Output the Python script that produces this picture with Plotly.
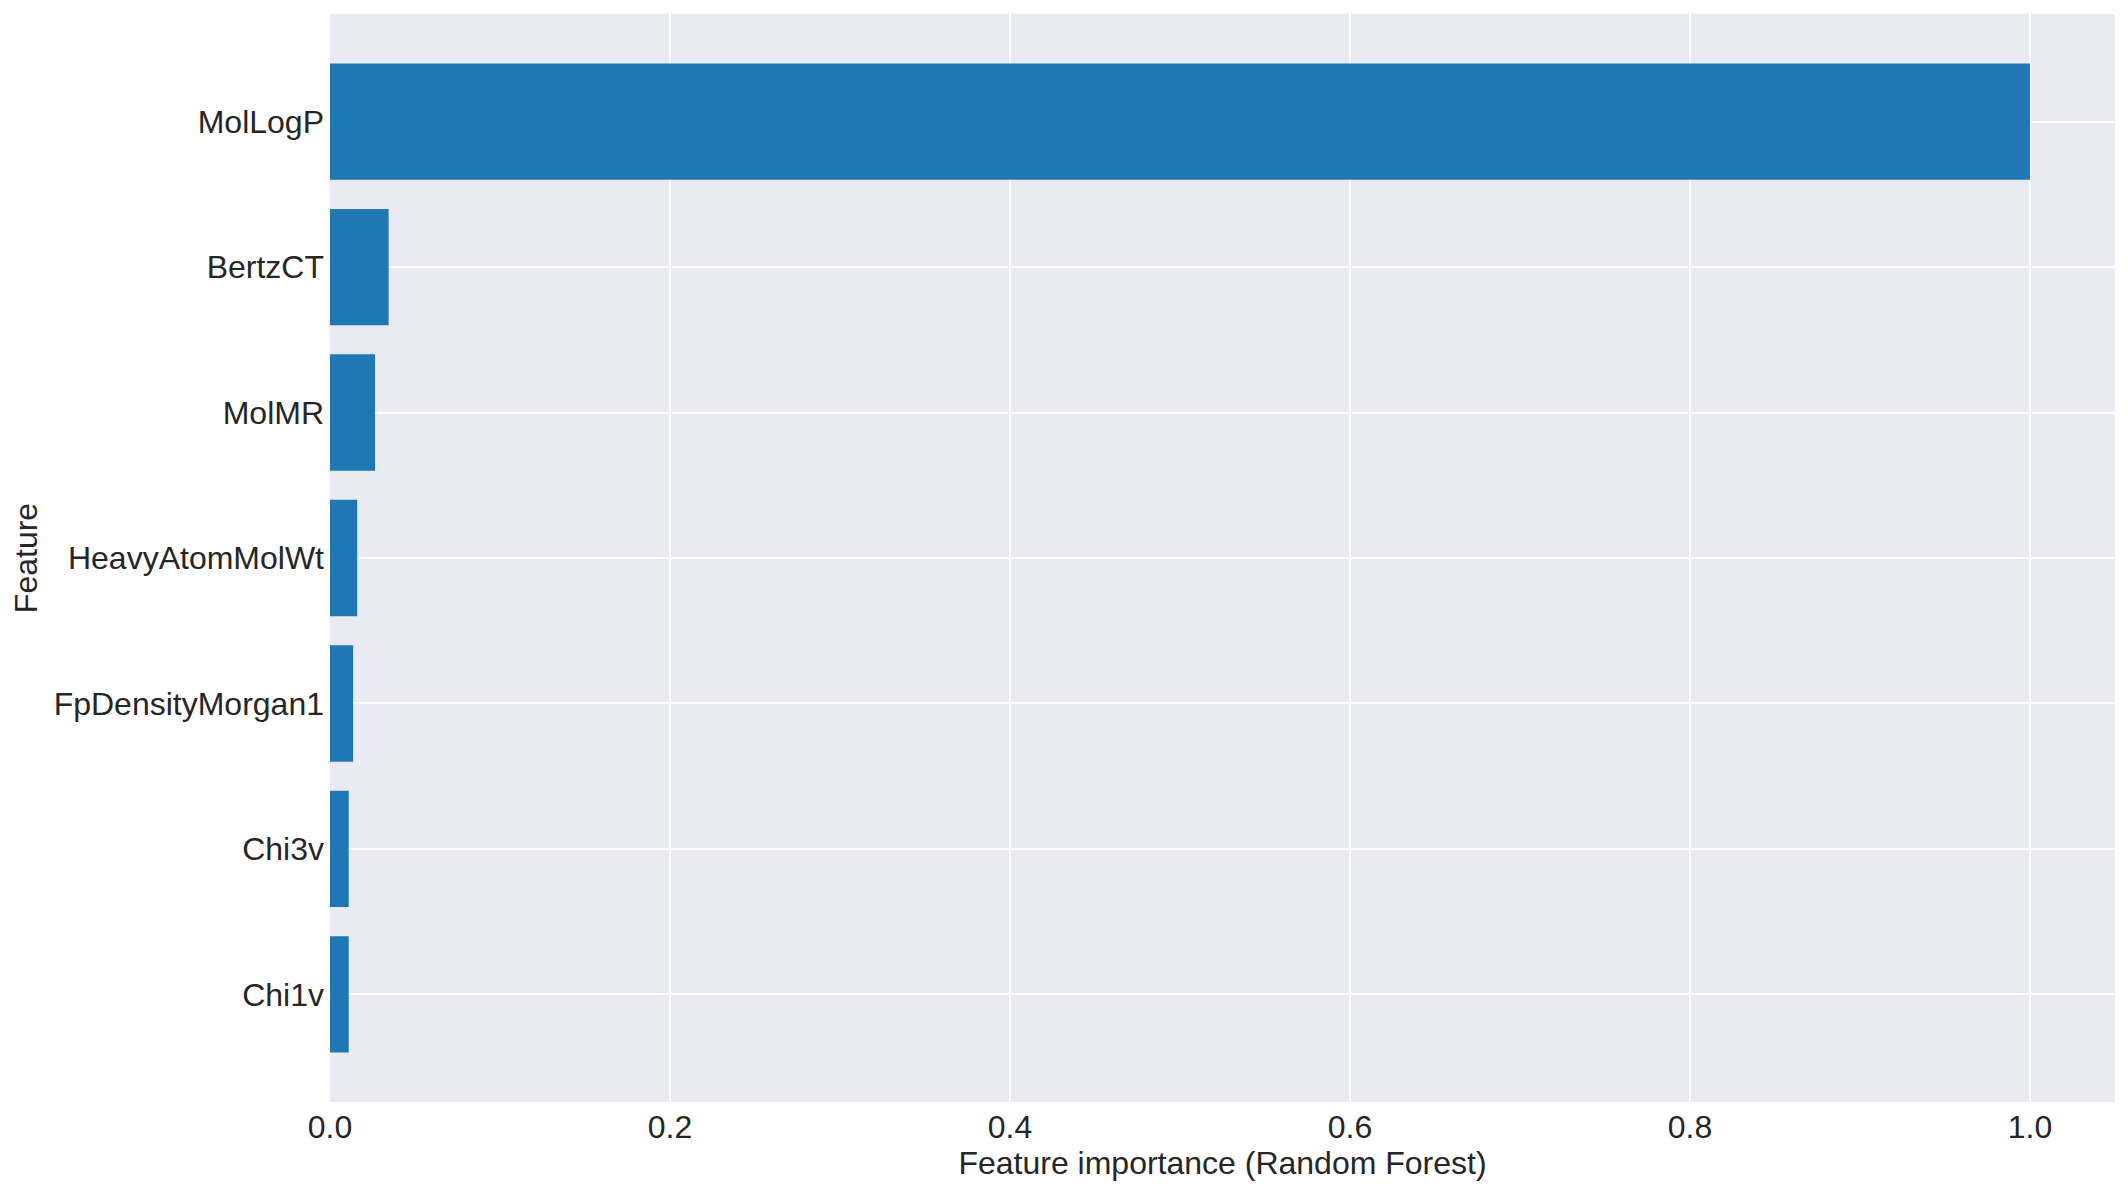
import plotly.graph_objects as go

# -----------------------------
# Data
# -----------------------------
features = ["Chi1v", "Chi3v", "FpDensityMorgan1", "HeavyAtomMolWt",
            "MolMR", "BertzCT", "MolLogP"]
importance = [0.011, 0.011, 0.0136, 0.016, 0.0265, 0.0345, 1.0]

x_ticks = [0.0, 0.2, 0.4, 0.6, 0.8, 1.0]
x_tick_text = ["0.0", "0.2", "0.4", "0.6", "0.8", "1.0"]

# -----------------------------
# Figure
# -----------------------------
fig = go.Figure(go.Bar(
    x=importance,
    y=features,
    orientation="h",
    width=0.8,
    marker=dict(color="#1f77b4", line=dict(width=0)),
))

font_family = "Liberation Sans, Arial, sans-serif"
text_color = "#262626"
fsize = 32

# the page body keeps its default 8px margin, so the figure is shrunk to fit
fig.update_layout(
    width=2120,
    height=1181,
    paper_bgcolor="white",
    plot_bgcolor="#eaeaf2",
    margin=dict(l=322, r=13, t=6, b=87, autoexpand=False),
    font=dict(family=font_family, size=fsize, color=text_color),
    showlegend=False,
    bargap=0.2,
)

fig.update_xaxes(
    range=[0, 1.05],
    tickvals=x_ticks,
    ticktext=x_tick_text,
    showgrid=True,
    gridcolor="white",
    gridwidth=2,
    zeroline=False,
    showline=False,
    ticks="",
    ticklabelstandoff=3,
    tickfont=dict(size=fsize, color=text_color),
    title=dict(text="Feature importance (Random Forest)",
               font=dict(size=fsize, color=text_color), standoff=4),
    automargin=False,
)

fig.update_yaxes(
    range=[-0.74, 6.74],
    categoryorder="array",
    categoryarray=features,
    showgrid=True,
    gridcolor="white",
    gridwidth=2,
    zeroline=False,
    showline=False,
    ticks="",
    ticklabelstandoff=5,
    tickfont=dict(size=fsize, color=text_color),
    title=dict(text="Feature", font=dict(size=fsize, color=text_color), standoff=14),
    automargin=False,
)

fig.write_html("out.html")
